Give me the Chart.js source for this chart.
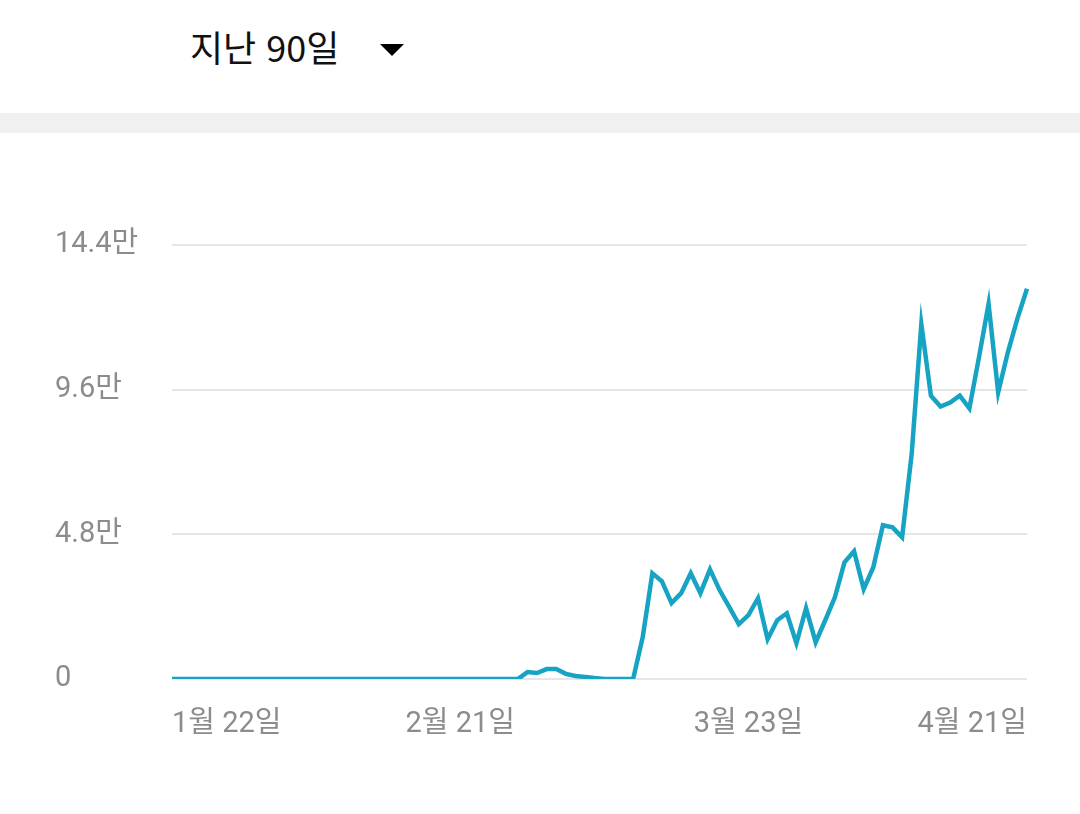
<!DOCTYPE html>
<html lang="ko">
<head>
<meta charset="utf-8">
<title>지난 90일</title>
<script src="https://cdn.jsdelivr.net/npm/chart.js@4/dist/chart.umd.min.js"></script>
<style>
  html, body { margin: 0; padding: 0; background: #fff; }
  body { width: 1080px; height: 814px; position: relative; overflow: hidden;
         font-family: "Noto Sans CJK KR", Roboto, sans-serif; }
  .header { position: absolute; left: 190px; top: 21px; font-size: 36px; color: #111; line-height: 50px; }
  .arrow { position: absolute; left: 380px; top: 44px; width: 0; height: 0;
           border-left: 12px solid transparent; border-right: 12px solid transparent; border-top: 12px solid #000; }
  .band { position: absolute; left: 0; top: 113px; width: 1080px; height: 20px; background: #f0f0f0; }
  .chart-box { position: absolute; left: 0; top: 133px; width: 1080px; height: 681px; }
</style>
</head>
<body>
<div class="header">지난 90일</div>
<div class="arrow"></div>
<div class="band"></div>
<div class="chart-box"><canvas id="chart"></canvas></div>

<script>
// daily values, 1월 22일 .. 4월 21일 (90 days)
const views = [
  0, 0, 0, 0, 0, 0, 0, 0, 0, 0,
  0, 0, 0, 0, 0, 0, 0, 0, 0, 0,
  0, 0, 0, 0, 0, 0, 0, 0, 0, 0,
  0, 0, 0, 0, 0, 0, 0, 2300, 2000, 3300,
  3300, 1700, 1000, 700, 300, 0, 0, 0, 0, 13900,
  35100, 32400, 25200, 28500, 35100, 28500, 36400, 29500, 23900, 18200,
  21200, 26800, 13200, 19500, 21800, 11900, 23500, 12200, 19500, 27100,
  38700, 42400, 29800, 37100, 51000, 50300, 47000, 74800, 117800, 94000,
  90400, 91700, 94000, 89800, 106700, 124500, 95100, 108300, 119600, 129500
];

// category labels: one per day starting at 1월 22일
const days = [];
for (let i = 0; i < views.length; i++) {
  const d = new Date(2019, 0, 22 + i);
  days.push((d.getMonth() + 1) + '월 ' + d.getDate() + '일');
}

// which days get a label on the x axis
const shownDays = ['1월 22일', '2월 21일', '3월 23일', '4월 21일'];

const yTicks = [0, 48000, 96000, 144000];

const formatMan = (value) => {
  return value === 0 ? '0' : (value / 10000) + '만';
};

const tickFont = { family: 'Roboto, "Noto Sans CJK KR", sans-serif', size: 29 };
const tickColor = '#8c8c8c';

new Chart(document.getElementById('chart'), {
  type: 'line',
  data: {
    labels: days,
    datasets: [{
      data: views,
      borderColor: '#17a3c3',
      borderWidth: 4.5,
      pointRadius: 0,
      tension: 0,
      fill: false,
    }],
  },
  options: {
    responsive: true,
    maintainAspectRatio: false,
    animation: false,
    layout: { padding: { left: 55, right: 53, top: 112, bottom: 0 } },
    plugins: {
      legend: { display: false },
      tooltip: { enabled: false },
    },
    scales: {
      x: {
        grid: { display: false, drawTicks: false },
        border: { display: false },
        afterFit: (scale) => { scale.height = 135; },
        ticks: {
          autoSkip: false,
          maxRotation: 0,
          align: 'inner',
          padding: 28,
          color: tickColor,
          font: tickFont,
          callback: function (value) {
            const label = this.getLabelForValue(value);
            return shownDays.includes(label) ? label : '';
          },
        },
      },
      y: {
        min: yTicks[0],
        max: yTicks[yTicks.length - 1],
        afterFit: (scale) => { scale.width = 117; },
        afterBuildTicks: (scale) => { scale.ticks = yTicks.map(v => ({ value: v })); },
        grid: { color: '#e6e6e6', lineWidth: 2, drawTicks: false },
        border: { display: false },
        ticks: {
          crossAlign: 'far',
          color: tickColor,
          font: tickFont,
          callback: formatMan,
        },
      },
    },
  },
});
</script>
</body>
</html>
